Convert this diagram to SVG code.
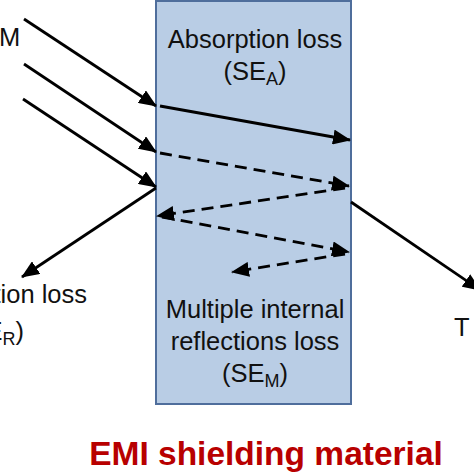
<svg xmlns="http://www.w3.org/2000/svg" width="474" height="474" viewBox="0 0 474 474">
<defs>
<marker id="ah" markerUnits="userSpaceOnUse" markerWidth="18" markerHeight="15" viewBox="0 0 18 15" refX="17" refY="7.5" orient="auto">
<path d="M0,0 L18,7.5 L0,15 Z" fill="#000"/>
</marker>
</defs>
<style>
.t{font-family:"Liberation Sans",Arial,sans-serif;font-size:25.5px;fill:#111}
.s{font-size:18px}
.ln{stroke:#000;stroke-width:2.8;fill:none}
.d{stroke-dasharray:12 7}
</style>
<rect width="474" height="474" fill="#fff"/>
<g id="material">
<rect x="156" y="1" width="195" height="403" fill="#b9cde5" stroke="#4f6e9c" stroke-width="2"/>
<text class="t" x="255" y="48" text-anchor="middle">Absorption loss</text>
<text class="t" x="255" y="80" text-anchor="middle">(SE<tspan class="s" dy="5">A</tspan><tspan dy="-5">)</tspan></text>
<text class="t" x="255" y="318" text-anchor="middle">Multiple internal</text>
<text class="t" x="255" y="350" text-anchor="middle">reflections loss</text>
<text class="t" x="255" y="382" text-anchor="middle">(SE<tspan class="s" dy="5">M</tspan><tspan dy="-5">)</tspan></text>
</g>
<g id="incident">
<text class="t" x="-1" y="46">M</text>
</g>
<g id="reflection">
<text class="t" x="87" y="303" text-anchor="end">Reflection loss</text>
<text class="t" x="24" y="340" text-anchor="end">(SE<tspan class="s" dy="5">R</tspan><tspan dy="-5">)</tspan></text>
</g>
<g id="transmitted">
<text class="t" x="454" y="336">T</text>
</g>
<g id="title">
<text x="266" y="465" text-anchor="middle" font-family="'Liberation Sans',Arial,sans-serif" font-weight="bold" font-size="33.5" fill="#b80000">EMI shielding material</text>
</g>
<g id="connectors">
<line class="ln" x1="24" y1="19" x2="156" y2="106" marker-end="url(#ah)"/>
<line class="ln" x1="24" y1="64" x2="156" y2="152" marker-end="url(#ah)"/>
<line class="ln" x1="23" y1="99" x2="156" y2="187" marker-end="url(#ah)"/>
<line class="ln" x1="160" y1="106" x2="350" y2="140" marker-end="url(#ah)"/>
<line class="ln" x1="156" y1="188" x2="22" y2="277" marker-end="url(#ah)"/>
<line class="ln" x1="351" y1="202" x2="480" y2="290" marker-end="url(#ah)"/>
<line class="ln d" x1="160" y1="153" x2="349" y2="186" marker-end="url(#ah)"/>
<line class="ln d" x1="345" y1="188" x2="157" y2="216" marker-end="url(#ah)"/>
<line class="ln d" x1="162" y1="217" x2="349" y2="252" marker-end="url(#ah)"/>
<line class="ln d" x1="345" y1="254" x2="232" y2="272" marker-end="url(#ah)"/>
</g>
</svg>
